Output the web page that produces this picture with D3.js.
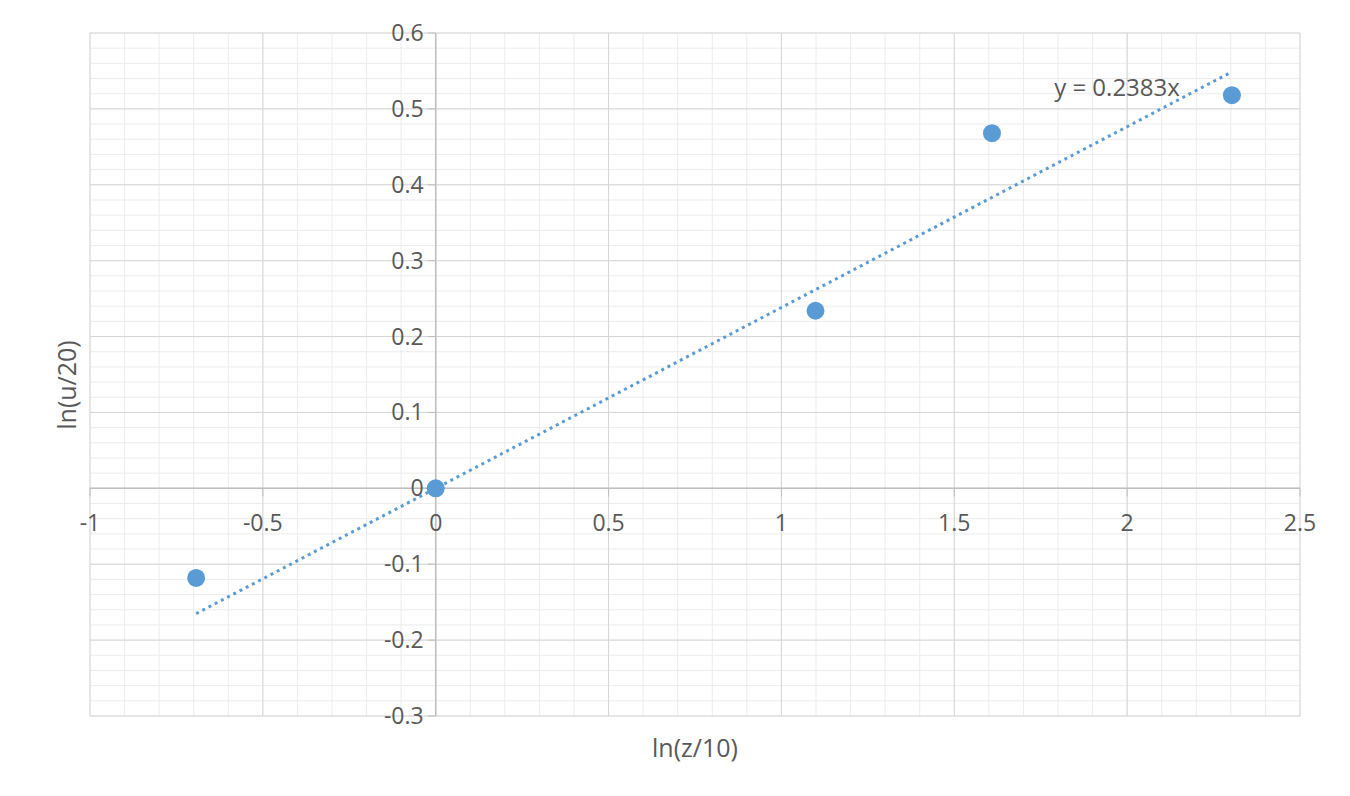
<!DOCTYPE html><html><head><meta charset="utf-8"><script src="https://cdn.jsdelivr.net/npm/d3@7"></script>
<style>body{margin:0;background:#fff}text{font-family:"Open Sans","Liberation Sans",sans-serif}</style></head><body><svg id="c" width="1350" height="796"></svg>
<script>
const xVals=[-0.693,0,1.0986,1.609,2.303];
const yVals=[-0.118,0,0.234,0.468,0.518];
const slope=0.2383;
const xTicks=[-1,-0.5,0,0.5,1,1.5,2,2.5];
const yTicks=[-0.3,-0.2,-0.1,0,0.1,0.2,0.3,0.4,0.5,0.6];
const svg=d3.select("#c");
const x=d3.scaleLinear().domain([-1,2.5]).range([90,1300]);
const y=d3.scaleLinear().domain([-0.3,0.6]).range([716,33]);
const g=svg.append("g");
d3.range(-1,2.5001,0.1).forEach(v=>g.append("line").attr("x1",x(v)).attr("x2",x(v)).attr("y1",33).attr("y2",716).attr("stroke","#ececec"));
d3.range(-0.3,0.6001,0.02).forEach(v=>g.append("line").attr("y1",y(v)).attr("y2",y(v)).attr("x1",90).attr("x2",1300).attr("stroke","#ececec"));
xTicks.forEach(v=>g.append("line").attr("x1",x(v)).attr("x2",x(v)).attr("y1",33).attr("y2",716).attr("stroke","#d6d6d6"));
yTicks.forEach(v=>g.append("line").attr("y1",y(v)).attr("y2",y(v)).attr("x1",90).attr("x2",1300).attr("stroke","#d6d6d6"));
g.append("line").attr("x1",90).attr("x2",1300).attr("y1",y(0)).attr("y2",y(0)).attr("stroke","#bfbfbf").attr("stroke-width",1.5);
g.append("line").attr("x1",x(0)).attr("x2",x(0)).attr("y1",33).attr("y2",716).attr("stroke","#bfbfbf").attr("stroke-width",1.5);
yTicks.forEach(v=>g.append("line").attr("x1",x(0)-8).attr("x2",x(0)).attr("y1",y(v)).attr("y2",y(v)).attr("stroke","#bfbfbf"));
xTicks.forEach(v=>g.append("line").attr("x1",x(v)).attr("x2",x(v)).attr("y1",y(0)).attr("y2",y(0)+8).attr("stroke","#bfbfbf"));
const fmt=v=>String(+v.toFixed(2));
xTicks.forEach(v=>g.append("text").attr("x",x(v)).attr("y",y(0)+43).attr("text-anchor","middle").attr("font-size",23).attr("fill","#595959").text(fmt(v)));
yTicks.forEach(v=>g.append("text").attr("x",x(0)-12).attr("y",y(v)+8).attr("text-anchor","end").attr("font-size",23).attr("fill","#595959").text(fmt(v)));
g.append("line").attr("x1",x(xVals[0])).attr("y1",y(slope*xVals[0])).attr("x2",x(xVals[4])).attr("y2",y(slope*xVals[4])).attr("stroke","#5b9bd5").attr("stroke-width",3).attr("stroke-dasharray","3,4");
xVals.forEach((v,i)=>g.append("circle").attr("cx",x(v)).attr("cy",y(yVals[i])).attr("r",9).attr("fill","#5b9bd5"));
g.append("text").attr("x",1117).attr("y",96).attr("text-anchor","middle").attr("font-size",24).attr("fill","#595959").text("y = 0.2383x");
svg.append("text").attr("x",695).attr("y",757).attr("text-anchor","middle").attr("font-size",25).attr("fill","#595959").text("ln(z/10)");
svg.append("text").attr("transform","translate(76,385) rotate(-90)").attr("text-anchor","middle").attr("font-size",25).attr("fill","#595959").text("ln(u/20)");
</script></body></html>
